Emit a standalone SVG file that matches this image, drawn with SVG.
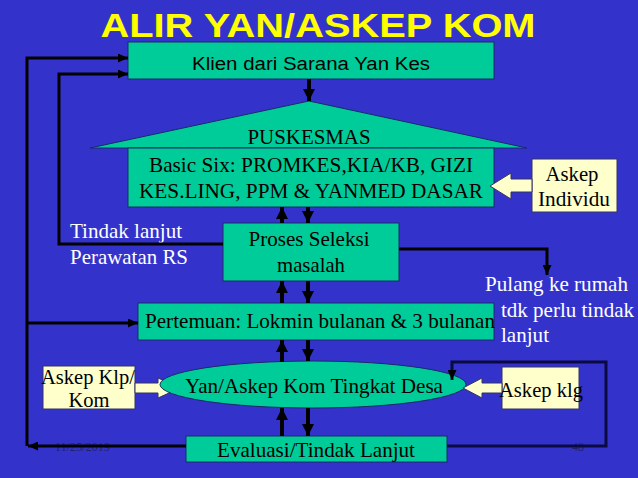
<svg xmlns="http://www.w3.org/2000/svg" width="638" height="478" viewBox="0 0 638 478">
<defs>
<style>
.box{fill:#00CC99;stroke:#1a2a66;stroke-width:1}
.ybox{fill:#FFFFCC;stroke:#333366;stroke-width:1}
.yarr{fill:#FFFFCC;stroke:#333366;stroke-width:1}
.t{font-family:"Liberation Serif","Times New Roman",serif;font-size:21px;fill:#000}
.w{font-family:"Liberation Serif","Times New Roman",serif;font-size:21px;fill:#FFFFFF}
.thick{stroke:#000;stroke-width:4;fill:none}
.thin{stroke:#000;stroke-width:3;fill:none}
.navy{stroke:#0a0a40;stroke-width:3;fill:none}
</style>
<marker id="big" markerUnits="userSpaceOnUse" viewBox="0 0 12 12" markerWidth="12" markerHeight="12" refX="12" refY="6" orient="auto"><path d="M0 0 L12 6 L0 12 z" fill="#000"/></marker>
<marker id="small" markerUnits="userSpaceOnUse" viewBox="0 0 10 9" markerWidth="10" markerHeight="9" refX="10" refY="4.5" orient="auto"><path d="M0 0 L10 4.5 L0 9 z" fill="#000"/></marker>
</defs>
<rect width="638" height="478" fill="#3333CC"/>
<text x="318" y="37" text-anchor="middle" font-family="Liberation Sans,Arial,sans-serif" font-weight="bold" font-size="34" fill="#FFFF00" textLength="435" lengthAdjust="spacingAndGlyphs">ALIR YAN/ASKEP KOM</text>

<text x="55" y="451" font-family="Liberation Serif,serif" font-size="12" fill="#22226a" textLength="55" lengthAdjust="spacingAndGlyphs">11/25/2019</text>
<text x="572" y="451" font-family="Liberation Serif,serif" font-size="12" fill="#22226a">48</text>

<g id="klien">
<rect class="box" x="128" y="42" width="366" height="37"/>
<text x="311" y="70" text-anchor="middle" font-family="Liberation Sans,Arial,sans-serif" font-size="18" fill="#000" textLength="238" lengthAdjust="spacingAndGlyphs">Klien dari Sarana Yan Kes</text>
</g>

<g id="puskesmas">
<polygon class="box" points="90,148 309,101 527,148"/>
<rect class="box" x="128" y="148" width="366" height="59"/>
<text class="t" x="309" y="144" text-anchor="middle" textLength="123" lengthAdjust="spacingAndGlyphs">PUSKESMAS</text>
<text class="t" x="311" y="172" text-anchor="middle" textLength="324" lengthAdjust="spacingAndGlyphs">Basic Six: PROMKES,KIA/KB, GIZI</text>
<text class="t" x="311" y="198" text-anchor="middle" textLength="344" lengthAdjust="spacingAndGlyphs">KES.LING, PPM &amp; YANMED DASAR</text>
</g>

<g id="askep-individu">
<rect class="ybox" x="532" y="159" width="85" height="53"/>
<polygon class="yarr" points="490,186 511,173 511,179 532,179 532,192 511,192 511,199"/>
<text class="t" x="572" y="181" text-anchor="middle" textLength="53" lengthAdjust="spacingAndGlyphs">Askep</text>
<text class="t" x="574" y="206" text-anchor="middle" textLength="72" lengthAdjust="spacingAndGlyphs">Individu</text>
</g>

<g id="proses">
<rect class="box" x="223" y="223" width="176" height="58"/>
<text class="t" x="309" y="246" text-anchor="middle" textLength="121" lengthAdjust="spacingAndGlyphs">Proses Seleksi</text>
<text class="t" x="311" y="272" text-anchor="middle" textLength="68" lengthAdjust="spacingAndGlyphs">masalah</text>
</g>

<g id="tindak-lanjut-label">
<text class="w" x="70" y="238" textLength="112" lengthAdjust="spacingAndGlyphs">Tindak lanjut</text>
<text class="w" x="70" y="264" textLength="118" lengthAdjust="spacingAndGlyphs">Perawatan RS</text>
</g>

<g id="pulang-label">
<text class="w" x="485" y="291" textLength="143" lengthAdjust="spacingAndGlyphs">Pulang ke rumah</text>
<text class="w" x="501" y="317" textLength="133" lengthAdjust="spacingAndGlyphs">tdk perlu tindak</text>
<text class="w" x="501" y="342" textLength="48" lengthAdjust="spacingAndGlyphs">lanjut</text>
</g>

<g id="pertemuan">
<rect class="box" x="138" y="303" width="356" height="37"/>
<text class="t" x="145" y="328" textLength="350" lengthAdjust="spacingAndGlyphs">Pertemuan: Lokmin bulanan &amp; 3 bulanan</text>
</g>

<g id="askep-klp">
<rect class="ybox" x="43" y="366" width="92" height="43"/>
<polygon class="yarr" points="135,383 158,383 158,378 180,388 158,398 158,393 135,393"/>
<text class="t" x="88" y="384" text-anchor="middle" textLength="94" lengthAdjust="spacingAndGlyphs">Askep Klp/</text>
<text class="t" x="89" y="407" text-anchor="middle" textLength="41" lengthAdjust="spacingAndGlyphs">Kom</text>
</g>

<g id="desa">
<ellipse class="box" cx="313" cy="384.5" rx="153" ry="23.5"/>
<text class="t" x="314" y="393" text-anchor="middle" textLength="258" lengthAdjust="spacingAndGlyphs">Yan/Askep Kom Tingkat Desa</text>
</g>

<g id="askep-klg">
<rect class="ybox" x="502" y="367" width="77" height="42"/>
<polygon class="yarr" points="463,388 482,378 482,383 502,383 502,393 482,393 482,398"/>
<text class="t" x="499" y="397" textLength="84" lengthAdjust="spacingAndGlyphs">Askep klg</text>
</g>

<g id="evaluasi">
<rect class="box" x="186" y="436" width="261" height="26"/>
<text class="t" x="316" y="457" text-anchor="middle" textLength="198" lengthAdjust="spacingAndGlyphs">Evaluasi/Tindak Lanjut</text>
</g>

<g id="connectors">
<line class="thick" x1="309" y1="79" x2="309" y2="101" marker-end="url(#big)"/>
<line class="thick" x1="282" y1="223" x2="282" y2="207" marker-end="url(#big)"/>
<line class="thick" x1="308" y1="207" x2="308" y2="223" marker-end="url(#big)"/>
<line class="thick" x1="282" y1="303" x2="282" y2="281" marker-end="url(#big)"/>
<line class="thick" x1="308" y1="281" x2="308" y2="303" marker-end="url(#big)"/>
<line class="thick" x1="282" y1="362" x2="282" y2="340" marker-end="url(#big)"/>
<line class="thick" x1="308" y1="340" x2="308" y2="361" marker-end="url(#big)"/>
<line class="thick" x1="282" y1="436" x2="282" y2="408" marker-end="url(#big)"/>
<line class="thick" x1="308" y1="408" x2="308" y2="436" marker-end="url(#big)"/>
<path class="thin" d="M27 446 V58 H128" marker-end="url(#small)"/>
<line class="thin" x1="186" y1="446" x2="28" y2="446" marker-end="url(#small)"/>
<line class="thin" x1="27" y1="323" x2="138" y2="323" marker-end="url(#small)"/>
<path class="thin" d="M223 244 H59 V74 H128" marker-end="url(#small)"/>
<path class="thin" d="M399 249 H547 V275" marker-end="url(#small)"/>
<path class="navy" d="M447 446 H606 V362 H452 V380" marker-end="url(#small)"/>
</g>
</svg>
